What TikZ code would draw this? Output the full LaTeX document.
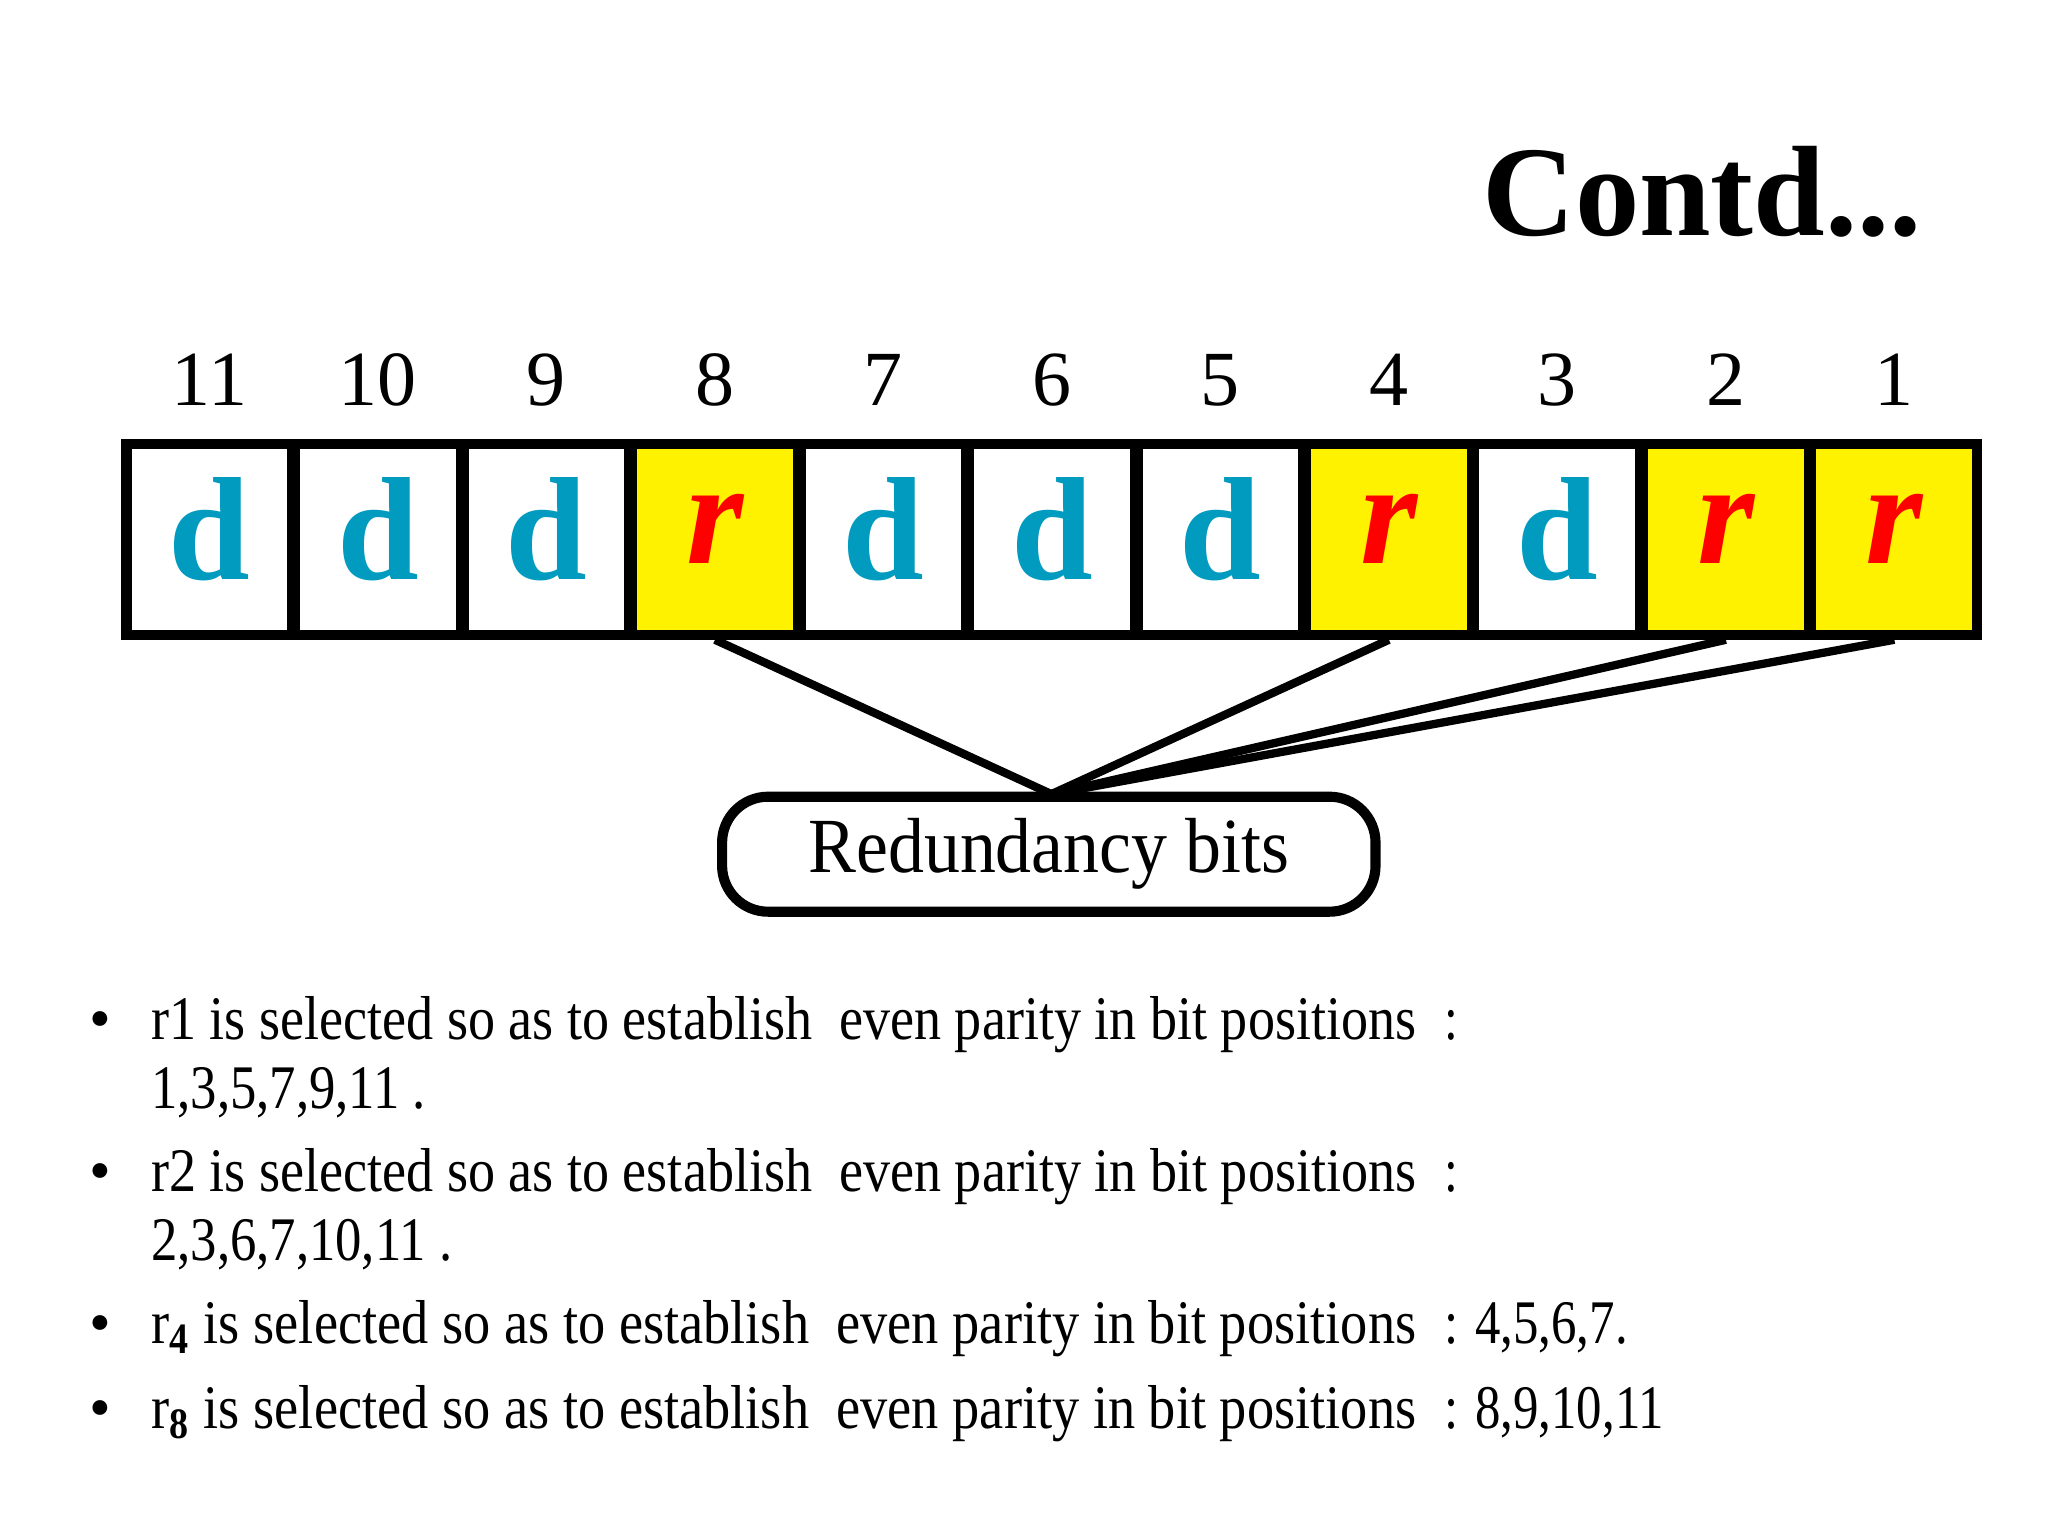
\documentclass[tikz,border=0pt]{standalone}
\usepackage{fontspec}
\setmainfont{Liberation Serif}
\usepackage{graphicx}
\usetikzlibrary{calc}
\definecolor{dteal}{RGB}{0,155,190}
\begin{document}
\begin{tikzpicture}[x=0.01cm,y=-0.01cm,
  cell/.style={draw,line width=2.2pt,minimum width=1.27cm,minimum height=1.46cm,inner sep=0,anchor=north west},
  dd/.style={font=\fontsize{32}{32}\selectfont\bfseries,text=dteal},
  rr/.style={font=\fontsize{32}{32}\selectfont\bfseries\itshape,text=red},
  num/.style={font=\fontsize{17}{17}\selectfont},
  bl/.style={anchor=base west,inner sep=0,font=\fontsize{13.5}{13.5}\selectfont},
  conn/.style={line width=1.8pt}]
\useasboundingbox (0,0) rectangle (1568,1176);
\node[anchor=base east,inner sep=0,font=\fontsize{28}{28}\selectfont\bfseries] (title) at (1472,180) {Contd...};
\foreach \i in {11,10,9,7,6,5,3}{
  \pgfmathsetmacro{\xx}{93+129*(11-\i)}
  \node[cell] (c\i) at (\xx,336) {};
  \node[dd] at ($(c\i.center)+(0,-8)$) {d};
  \node[num] (n\i) at ($(c\i.north)+(0,-45)$) {\i};
}
\foreach \i in {8,4,2,1}{
  \pgfmathsetmacro{\xx}{93+129*(11-\i)}
  \node[cell,fill=yellow] (c\i) at (\xx,336) {};
  \node[rr] at ($(c\i.center)+(0,-8)$) {r};
  \node[num] (n\i) at ($(c\i.north)+(0,-45)$) {\i};
}
\node[draw,line width=2.2pt,rounded corners=10pt,minimum width=5.0cm,minimum height=0.88cm,font=\fontsize{17}{17}\selectfont] (rb) at (803,654) {\scalebox{0.92}[1]{Redundancy bits}};
\coordinate (apex) at (805,608);
\draw[conn] (c8.south) -- (apex);
\draw[conn] (c4.south) -- (apex);
\draw[conn] (c2.south) -- (apex);
\draw[conn] (c1.south) -- (apex);
\node[bl] (b1) at (68,796) {\textbullet};
\node[bl] (t1) at (115,796) {\resizebox{9.68cm}{\height}{r1 is selected so as to establish\ \ even parity in bit positions}};
\node[bl] (e1) at (1105,796) {\scalebox{0.8}[1]{:}};
\node[bl] (s1) at (115,849) {\scalebox{0.85}[1]{1,3,5,7,9,11 .}};
\node[bl] (b2) at (68,912) {\textbullet};
\node[bl] (t2) at (115,912) {\resizebox{9.68cm}{\height}{r2 is selected so as to establish\ \ even parity in bit positions}};
\node[bl] (e2) at (1105,912) {\scalebox{0.8}[1]{:}};
\node[bl] (s2) at (115,965) {\scalebox{0.85}[1]{2,3,6,7,10,11 .}};
\node[bl] (b3) at (68,1029) {\textbullet};
\node[bl] (t3) at (115,1029) {\resizebox{9.68cm}{\height}{r\textsubscript{\bfseries 4}\ is selected so as to establish\ \ even parity in bit positions}};
\node[bl] (e3) at (1105,1029) {\scalebox{0.82}[1]{: 4,5,6,7.}};
\node[bl] (b4) at (68,1094) {\textbullet};
\node[bl] (t4) at (115,1094) {\resizebox{9.68cm}{\height}{r\textsubscript{\bfseries 8}\ is selected so as to establish\ \ even parity in bit positions}};
\node[bl] (e4) at (1105,1094) {\scalebox{0.82}[1]{: 8,9,10,11}};
\end{tikzpicture}
\end{document}
